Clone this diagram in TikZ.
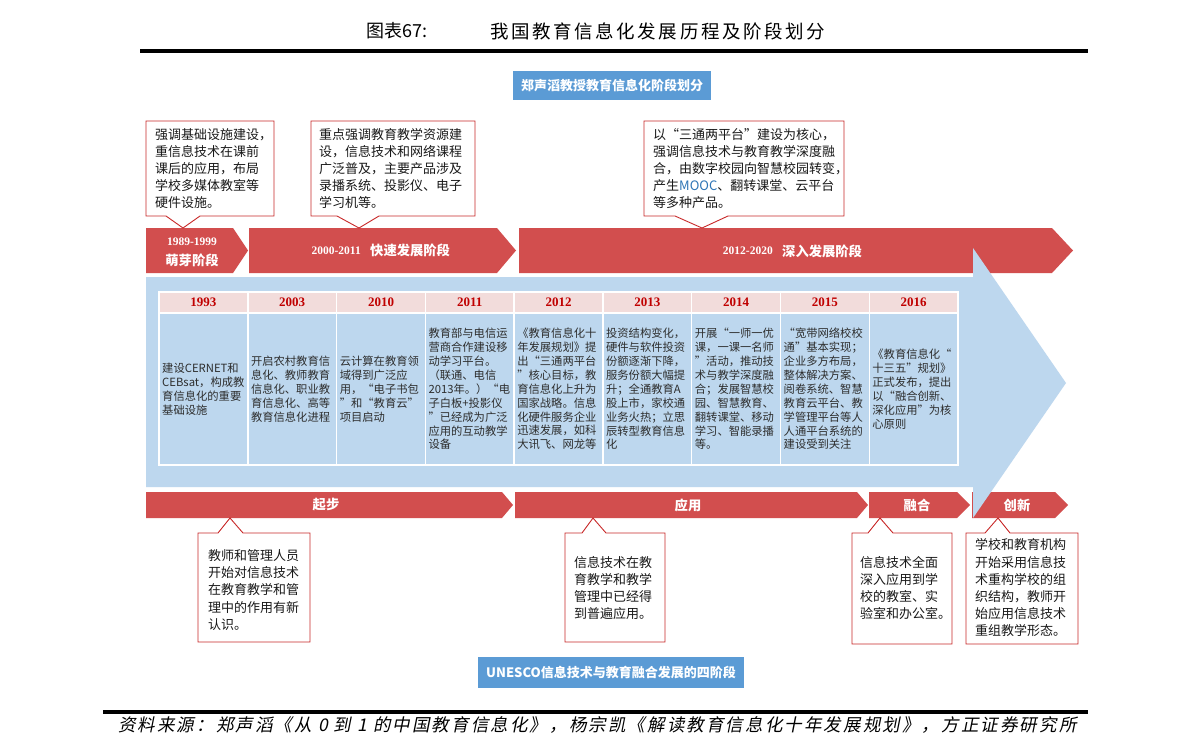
\documentclass[tikz,border=0pt]{standalone}
\usepackage{fontspec}
\setmainfont{Noto Sans CJK SC}
\newfontfamily\ser{Liberation Serif}
\newfontfamily\kai[FakeSlant=0.2,LetterSpace=12]{Noto Sans CJK SC}
\newfontfamily\ttl[LetterSpace=14]{Noto Sans CJK SC}
\definecolor{barred}{RGB}{210,78,78}
\definecolor{lightblue}{RGB}{189,215,238}
\definecolor{hdrblue}{RGB}{91,155,213}
\definecolor{hdrpink}{RGB}{242,220,219}
\definecolor{yearred}{RGB}{192,0,0}
\definecolor{cored}{RGB}{200,40,40}
\definecolor{tblgray}{RGB}{45,45,45}
\definecolor{moocblue}{RGB}{46,117,182}
\begin{document}
\begin{tikzpicture}[x=1pt,y=-1pt,
  redbar/.style={fill=barred,draw=none},
  hdr/.style={fill=hdrblue,draw=none,text=white,font=\fontsize{13}{15}\selectfont\bfseries,inner sep=0},
  callout/.style={draw=cored,line width=0.9pt,fill=white,line join=miter},
  cotext/.style={font=\fontsize{13}{17.2}\selectfont,align=left,inner sep=0,anchor=west,text=black!90},
  tbl/.style={font=\fontsize{11.3}{13.9}\selectfont,align=left,inner sep=0,anchor=west,text=tblgray},
  year/.style={font=\ser\fontsize{13}{15}\selectfont\bfseries,text=yearred,inner sep=0},
  barlbl/.style={text=white,inner sep=0,font=\fontsize{13.3}{17}\selectfont\bfseries},
  barnum/.style={text=white,inner sep=0,font=\ser\fontsize{11.5}{14}\selectfont\bfseries},
  grid/.style={draw=white,line width=1.4pt}]
\useasboundingbox (0,0) rectangle (1191,752);
\fill[white] (0,0) rectangle (1191,752);

% ---------- title ----------
\node[anchor=west,inner sep=0,font=\fontsize{18}{20}\selectfont] (fig) at (366,31) {图表67:};
\node[anchor=west,inner sep=0,font=\ttl\fontsize{18.5}{20}\selectfont] (title) at (490,31) {我国教育信息化发展历程及阶段划分};
\draw[line width=3.5pt] (140,51) -- (1088,51);

\node[hdr,minimum width=198,minimum height=29] (h1) at (612,85.5) {郑声滔教授教育信息化阶段划分};

% ---------- upper red bars ----------
\fill[redbar] (146,228) -- (233,228) -- (248,250.5) -- (233,273) -- (146,273) -- cycle;
\fill[redbar] (249,228) -- (497,228) -- (516,250.5) -- (497,273) -- (249,273) -- cycle;
\fill[redbar] (519,228) -- (1052,228) -- (1073,250.5) -- (1052,273) -- (519,273) -- cycle;

% ---------- lower red bars ----------
\fill[redbar] (146,492) -- (502,492) -- (513,505) -- (502,518) -- (146,518) -- cycle;
\fill[redbar] (515,492) -- (857,492) -- (868,505) -- (857,518) -- (515,518) -- cycle;
\fill[redbar] (869,492) -- (957,492) -- (970,505) -- (957,518) -- (869,518) -- cycle;
\fill[redbar] (972,492) -- (1055,492) -- (1068,505) -- (1055,518) -- (972,518) -- cycle;

% ---------- big light blue arrow ----------
\fill[lightblue] (146,277) -- (973,277) -- (973,248) -- (1066,383) -- (973,518) -- (973,487) -- (146,487) -- cycle;

% bar labels
\node[barnum] (n1) at (192,242) {1989-1999};
\node[barlbl] (s1) at (192,260) {萌芽阶段};
\node[barnum,anchor=east] (n2) at (361,250.5) {2000-2011};
\node[barlbl,anchor=west] (s2) at (370,250.5) {快速发展阶段};
\node[barnum,anchor=east] (n3) at (773,251) {2012-2020};
\node[barlbl,anchor=west] (s3) at (782,251) {深入发展阶段};

\node[barlbl] (p1) at (326,505) {起步};
\node[barlbl] (p2) at (688,505) {应用};
\node[barlbl] (p3) at (917,505) {融合};
\node[barlbl] (p4) at (1017,505) {创新};

% ---------- table ----------
\fill[hdrpink] (159,292) rectangle (958,313);
\draw[grid] (159,292) rectangle (958,465);
\draw[grid] (159,313) -- (958,313);
\foreach \x in {247.8,336.6,425.3,514.1,602.9,691.7,780.5,869.2}
  \draw[grid] (\x,292) -- (\x,465);

\node[year] (y1) at (203.4,302.5) {1993};
\node[year] (y2) at (292.2,302.5) {2003};
\node[year] (y3) at (381.0,302.5) {2010};
\node[year] (y4) at (469.7,302.5) {2011};
\node[year] (y5) at (558.5,302.5) {2012};
\node[year] (y6) at (647.3,302.5) {2013};
\node[year] (y7) at (736.1,302.5) {2014};
\node[year] (y8) at (824.8,302.5) {2015};
\node[year] (y9) at (913.6,302.5) {2016};

\node[tbl] (t1) at (162,389) {建设CERNET和\\CEBsat，构成教\\育信息化的重要\\基础设施};
\node[tbl] (t2) at (250.8,389) {开启农村教育信\\息化、教师教育\\信息化、职业教\\育信息化、高等\\教育信息化进程};
\node[tbl] (t3) at (339.6,389) {云计算在教育领\\域得到广泛应\\用，“电子书包\\”和“教育云”\\项目启动};
\node[tbl] (t4) at (428.3,389) {教育部与电信运\\营商合作建设移\\动学习平台。\\（联通、电信\\2013年。）“电\\子白板+投影仪\\”已经成为广泛\\应用的互动教学\\设备};
\node[tbl] (t5) at (517.1,389) {《教育信息化十\\年发展规划》提\\出“三通两平台\\”核心目标，教\\育信息化上升为\\国家战略。信息\\化硬件服务企业\\迅速发展，如科\\大讯飞、网龙等};
\node[tbl] (t6) at (605.9,389) {投资结构变化，\\硬件与软件投资\\份额逐渐下降，\\服务份额大幅提\\升；全通教育A\\股上市，家校通\\业务火热；立思\\辰转型教育信息\\化};
\node[tbl] (t7) at (694.7,389) {开展“一师一优\\课，一课一名师\\”活动，推动技\\术与教学深度融\\合；发展智慧校\\园、智慧教育、\\翻转课堂、移动\\学习、智能录播\\等。};
\node[tbl] (t8) at (783.5,389) {“宽带网络校校\\通”基本实现；\\企业多方布局，\\整体解决方案、\\阅卷系统、智慧\\教育云平台、教\\学管理平台等人\\人通平台系统的\\建设受到关注};
\node[tbl] (t9) at (872.2,389) {《教育信息化“\\十三五”规划》\\正式发布，提出\\以“融合创新、\\深化应用”为核\\心原则};

% ---------- top callouts ----------
\draw[callout] (146,121) -- (274,121) -- (274,216) -- (200,216) -- (183,228) -- (166,216) -- (146,216) -- cycle;
\node[cotext] (c1) at (155,168.5) {强调基础设施建设，\\重信息技术在课前\\课后的应用，布局\\学校多媒体教室等\\硬件设施。};
\draw[callout] (311,121) -- (475,121) -- (475,216) -- (379,216) -- (359,228) -- (337,216) -- (311,216) -- cycle;
\node[cotext] (c2) at (319,168.5) {重点强调教育教学资源建\\设，信息技术和网络课程\\广泛普及，主要产品涉及\\录播系统、投影仪、电子\\学习机等。};
\draw[callout] (644,121) -- (844,121) -- (844,216) -- (728,216) -- (702,228) -- (675,216) -- (644,216) -- cycle;
\node[cotext] (c3) at (653,168.5) {以“三通两平台”建设为核心，\\强调信息技术与教育教学深度融\\合，由数字校园向智慧校园转变，\\产生{\color{moocblue}MOOC}、翻转课堂、云平台\\等多种产品。};

% ---------- bottom callouts ----------
\draw[callout] (198,533) -- (218,533) -- (230,518) -- (243,533) -- (310,533) -- (310,642) -- (198,642) -- cycle;
\node[cotext] (d1) at (208,590) {教师和管理人员\\开始对信息技术\\在教育教学和管\\理中的作用有新\\认识。};
\draw[callout] (565,533) -- (582,533) -- (593,518) -- (606,533) -- (665,533) -- (665,642) -- (565,642) -- cycle;
\node[cotext] (d2) at (574,588) {信息技术在教\\育教学和教学\\管理中已经得\\到普遍应用。};
\draw[callout] (852,533) -- (868,533) -- (880,518) -- (893,533) -- (952,533) -- (952,644) -- (852,644) -- cycle;
\node[cotext] (d3) at (860,588) {信息技术全面\\深入应用到学\\校的教室、实\\验室和办公室。};
\draw[callout] (966,533) -- (985,533) -- (998,518) -- (1010,533) -- (1078,533) -- (1078,644) -- (966,644) -- cycle;
\node[cotext] (d4) at (975,588) {学校和教育机构\\开始采用信息技\\术重构学校的组\\织结构，教师开\\始应用信息技术\\重组教学形态。};

% ---------- bottom header and footer ----------
\node[hdr,minimum width=266,minimum height=31] (h2) at (611,672.5) {UNESCO信息技术与教育融合发展的四阶段};
\draw[line width=3.5pt] (103,712) -- (1088,712);
\node[anchor=west,inner sep=0,font=\kai\fontsize{17.5}{19}\selectfont] (src) at (118,725) {资料来源：郑声滔《从 0 到 1 的中国教育信息化》，杨宗凯《解读教育信息化十年发展规划》，方正证券研究所};
\end{tikzpicture}
\end{document}
